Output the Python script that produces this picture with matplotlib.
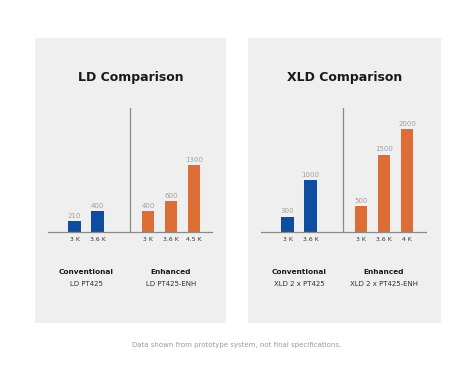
import matplotlib.pyplot as plt
from matplotlib.patches import Rectangle

# data
titles = ["LD Comparison", "XLD Comparison"]
conv_labels = ["3 K", "3.6 K"]
ld_conv = [210, 400]
ld_enh_labels = ["3 K", "3.6 K", "4.5 K"]
ld_enh = [400, 600, 1300]
xld_conv = [300, 1000]
xld_enh_labels = ["3 K", "3.6 K", "4 K"]
xld_enh = [500, 1500, 2000]
group_names = ["Conventional", "Enhanced"]
ld_models = ["LD PT425", "LD PT425-ENH"]
xld_models = ["XLD 2 x PT425", "XLD 2 x PT425-ENH"]
footer = "Data shown from prototype system, not final specifications."

BLUE = "#0d4ea0"
ORANGE = "#dc6e35"
PANEL = "#efefef"
W, H = 474, 384


def fx(px):
    return px / W


def fy(py):
    return 1 - py / H


fig = plt.figure(figsize=(W / 100, H / 100), dpi=100)
fig.patch.set_facecolor("white")


def panel(x0, x1, title, conv, enh, enh_labels, models):
    fig.add_artist(Rectangle((fx(x0), fy(323)), fx(x1) - fx(x0), fy(38) - fy(323),
                             transform=fig.transFigure, facecolor=PANEL, edgecolor="none", zorder=0))
    fig.text(fx((x0 + x1) / 2), fy(78), title, ha="center", va="center",
             fontsize=9, fontweight="bold", color="#1a1a1a")

    ax = fig.add_axes([fx(x0 + 13), fy(232), 164.5 / W, 124 / H])
    ax.set_facecolor("none")
    pos_conv = [0, 1]
    pos_enh = [3.2, 4.2, 5.2]
    b1 = ax.bar(pos_conv, conv, width=0.55, color=BLUE, zorder=2)
    b2 = ax.bar(pos_enh, enh, width=0.55, color=ORANGE, zorder=2)
    for bars, vals in ((b1, conv), (b2, enh)):
        for b, v in zip(bars, vals):
            ax.annotate(str(v), (b.get_x() + b.get_width() / 2, v), xytext=(0, 1.5),
                        textcoords="offset points", ha="center", va="bottom",
                        fontsize=5, color="#a0a0a0")
    ax.set_xlim(-1.15, 6.0)
    ax.set_ylim(0, 2400)
    ax.axvline(2.42, color="#8a8a8a", lw=0.9, zorder=1)
    for s in ["top", "right", "left"]:
        ax.spines[s].set_visible(False)
    ax.spines["bottom"].set_color("#8a8a8a")
    ax.spines["bottom"].set_linewidth(0.9)
    ax.set_yticks([])
    ax.set_xticks(pos_conv + pos_enh)
    ax.set_xticklabels(conv_labels + enh_labels, fontsize=4.4, color="#333333")
    ax.tick_params(axis="x", length=0, pad=3.5)

    for cx, name, model in zip([0.5, 4.2], group_names, models):
        ax.annotate(name, (cx, 0), xycoords=("data", "axes fraction"), xytext=(0, -28.8),
                    textcoords="offset points", ha="center", va="center",
                    fontsize=5.3, fontweight="bold", color="#1a1a1a")
        ax.annotate(model, (cx, 0), xycoords=("data", "axes fraction"), xytext=(0, -37.4),
                    textcoords="offset points", ha="center", va="center",
                    fontsize=5, color="#333333")


panel(35, 226, titles[0], ld_conv, ld_enh, ld_enh_labels, ld_models)
panel(248, 441, titles[1], xld_conv, xld_enh, xld_enh_labels, xld_models)

fig.text(fx(237), fy(345), footer, ha="center", va="center", fontsize=5, color="#9a9a9a")

fig.savefig("out.png", dpi=100, facecolor="white")
